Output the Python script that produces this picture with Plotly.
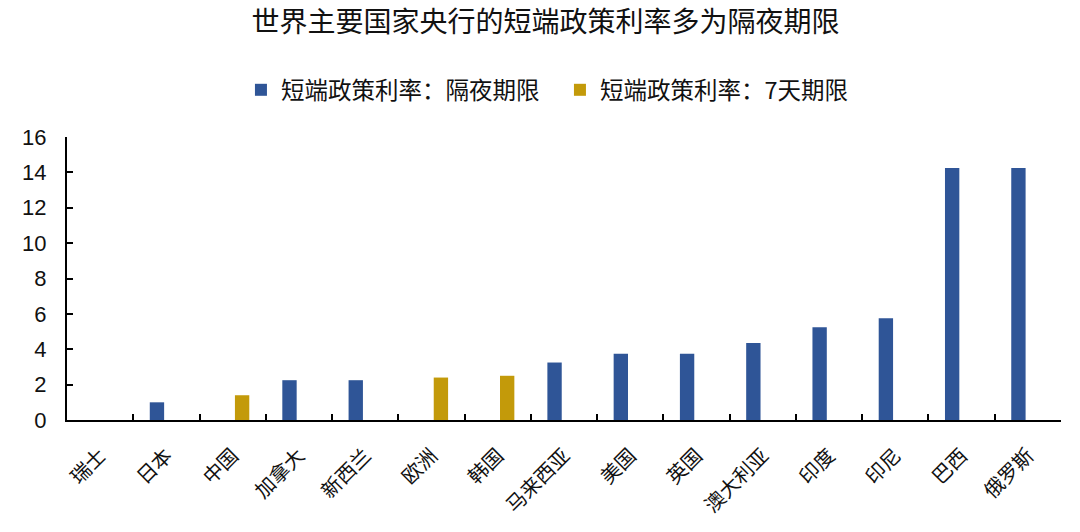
import plotly.graph_objects as go

categories = ["瑞士", "日本", "中国", "加拿大", "新西兰", "欧洲", "韩国", "马来西亚",
              "美国", "英国", "澳大利亚", "印度", "印尼", "巴西", "俄罗斯"]
overnight = [0, 1.0, None, 2.25, 2.25, None, None, 3.25,
             3.75, 3.75, 4.35, 5.25, 5.75, 14.25, 14.25]
seven_day = [None, None, 1.4, None, None, 2.4, 2.5, None,
             None, None, None, None, None, None, None]
y_ticks = [0, 2, 4, 6, 8, 10, 12, 14, 16]

title_text = "世界主要国家央行的短端政策利率多为隔夜期限"
name_overnight = "短端政策利率：隔夜期限"
name_7d = "短端政策利率：7天期限"

BLUE = "#2F5597"
GOLD = "#C39A0A"
CJK = "Noto Sans CJK SC"

fig = go.Figure()
fig.add_trace(go.Bar(x=categories, y=overnight, name=name_overnight,
                     marker=dict(color=BLUE, line=dict(width=0))))
fig.add_trace(go.Bar(x=categories, y=seven_day, name=name_7d,
                     marker=dict(color=GOLD, line=dict(width=0))))

fig.update_layout(
    width=1080, height=532,
    margin=dict(l=67, r=19, t=137, b=112),
    paper_bgcolor="white", plot_bgcolor="white",
    barmode="group", bargap=0.43, bargroupgap=0.24,
    title=dict(text=title_text, x=0.505, xanchor="center", y=1 - 22 / 532,
               yanchor="middle", yref="container",
               font=dict(family=CJK, size=28, color="#111111")),
    legend=dict(orientation="h", x=0.175, xanchor="left", y=1.166, yanchor="middle",
                font=dict(family=CJK, size=23.5, color="#111111"),
                entrywidth=274, traceorder="normal", bgcolor="rgba(0,0,0,0)"),
    showlegend=True,
)
fig.update_xaxes(
    type="category", showline=True, linecolor="#000000", linewidth=2,
    ticks="inside", tickson="boundaries", ticklen=6, tickwidth=2, tickcolor="#000000",
    tickangle=-45, tickfont=dict(family=CJK, size=20, color="#111111"),
    ticklabelstandoff=14,
    showgrid=False, zeroline=False,
)
fig.update_yaxes(
    range=[0, 16], tickvals=y_ticks, showline=True, linecolor="#000000", linewidth=2,
    ticks="inside", ticklen=6, tickwidth=2, tickcolor="#000000",
    tickfont=dict(family="Liberation Sans, Arial", size=22, color="#111111"),
    ticklabelstandoff=14,
    showgrid=False, zeroline=False,
)

fig.write_html("out.html")
